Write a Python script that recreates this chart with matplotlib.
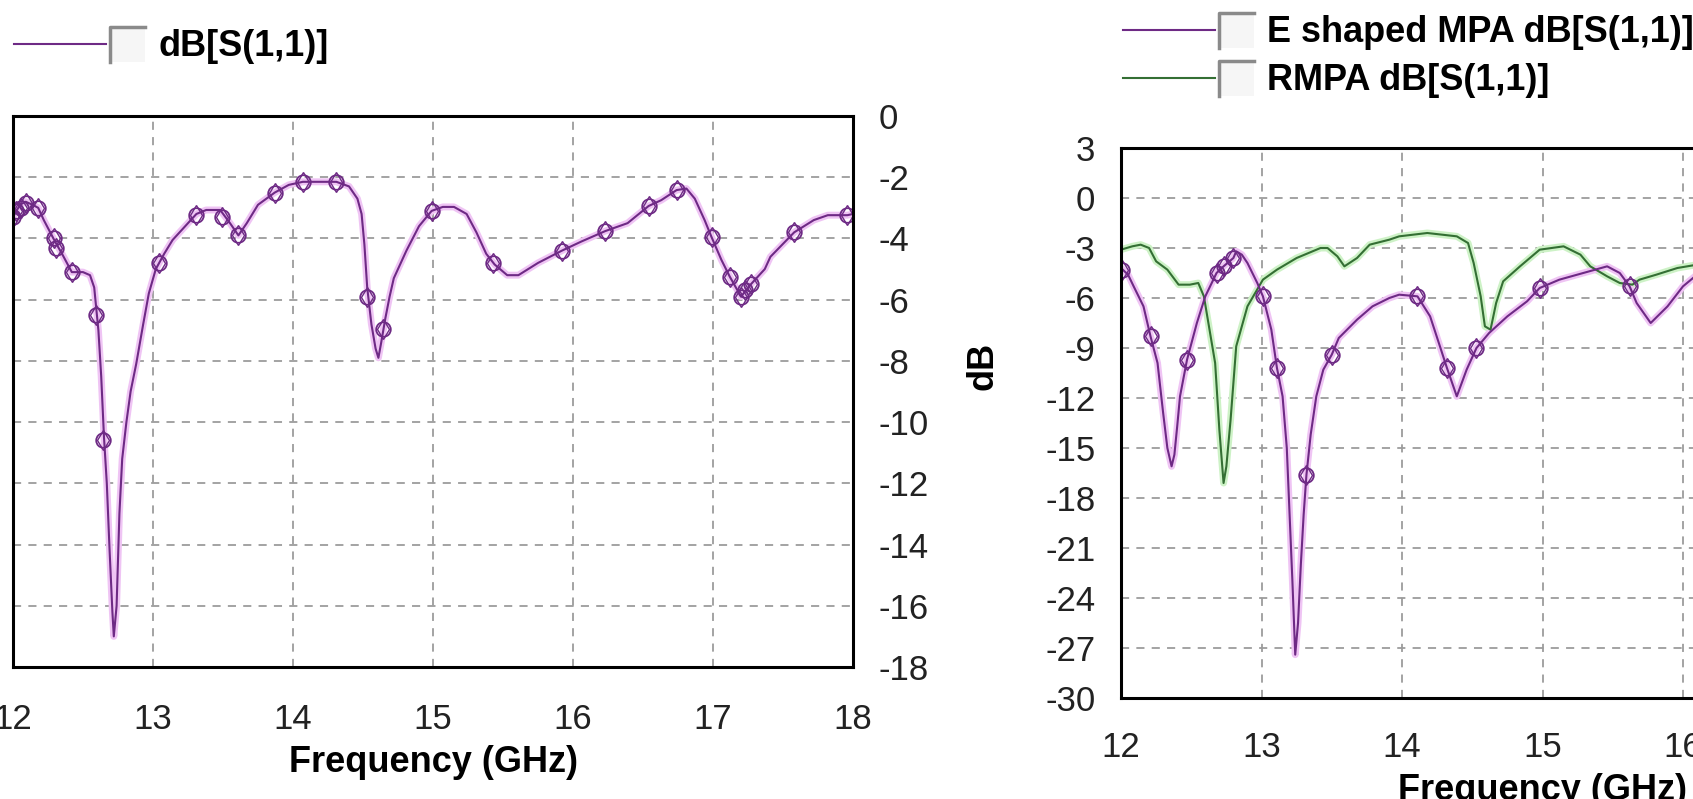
import numpy as np
import matplotlib
matplotlib.use("Agg")
import matplotlib.pyplot as plt
from matplotlib.lines import Line2D
from matplotlib.patches import Rectangle

# ---- data ----
# left chart: dB[S(1,1)]
left_freq = [12.00, 12.05, 12.09, 12.14, 12.18, 12.22, 12.30, 12.35, 12.42, 12.50,
             12.55, 12.58, 12.61, 12.63, 12.65, 12.67, 12.69, 12.71, 12.72, 12.74,
             12.76, 12.78, 12.81, 12.84, 12.88, 12.93, 12.97, 13.02, 13.08, 13.14,
             13.24, 13.31, 13.38, 13.48, 13.55, 13.61, 13.67, 13.75, 13.87, 13.97,
             14.07, 14.19, 14.31, 14.40, 14.46, 14.49, 14.51, 14.53, 14.56, 14.59,
             14.61, 14.63, 14.66, 14.69, 14.72, 14.81, 14.90, 14.99, 15.07, 15.15,
             15.24, 15.31, 15.38, 15.44, 15.53, 15.61, 15.75, 15.92, 16.06, 16.23,
             16.39, 16.54, 16.63, 16.74, 16.81, 16.87, 16.94, 16.99, 17.06, 17.12,
             17.20, 17.27, 17.37, 17.41, 17.58, 17.72, 17.82, 17.96, 18.00]
left_db = [-3.3, -2.9, -2.8, -2.9, -3.0, -3.4, -4.1, -4.5, -5.1, -5.1,
           -5.2, -5.6, -7.0, -8.5, -10.5, -12.0, -14.2, -16.2, -17.0, -16.0,
           -13.0, -11.2, -10.0, -9.0, -8.1, -6.8, -5.8, -5.0, -4.5, -4.05,
           -3.55, -3.2, -3.07, -3.07, -3.5, -3.9, -3.5, -2.9, -2.5, -2.25,
           -2.15, -2.15, -2.15, -2.3, -2.7, -3.2, -4.2, -5.6, -6.8, -7.6,
           -7.9, -7.4, -6.6, -5.9, -5.3, -4.4, -3.6, -3.1, -2.97, -2.97,
           -3.2, -3.8, -4.5, -4.85, -5.2, -5.2, -4.8, -4.4, -4.1, -3.76,
           -3.5, -2.94, -2.75, -2.42, -2.37, -2.7, -3.4, -3.96, -4.7, -5.25,
           -5.9, -5.5, -5.0, -4.6, -3.8, -3.4, -3.24, -3.24, -3.2]
left_mark_freq = [12.00, 12.02, 12.06, 12.09, 12.18, 12.29, 12.31, 12.42, 12.59, 12.64,
                  13.04, 13.31, 13.49, 13.61, 13.87, 14.07, 14.31, 14.53, 14.64, 14.99,
                  15.43, 15.92, 16.23, 16.54, 16.74, 16.99, 17.12, 17.20, 17.23, 17.27,
                  17.58, 17.96]
left_mark_db = [-3.3, -3.1, -3.0, -2.85, -3.0, -4.0, -4.3, -5.1, -6.5, -10.6,
                -4.8, -3.24, -3.3, -3.9, -2.53, -2.15, -2.15, -5.9, -6.95, -3.1,
                -4.8, -4.4, -3.76, -2.94, -2.42, -3.96, -5.25, -5.9, -5.7, -5.5,
                -3.8, -3.24]

# right chart: E shaped MPA
eshape_freq = [12.00, 12.05, 12.09, 12.16, 12.21, 12.26, 12.30, 12.33, 12.36, 12.38,
               12.40, 12.42, 12.47, 12.54, 12.60, 12.68, 12.73, 12.80, 12.82, 12.86,
               12.90, 12.97, 13.01, 13.07, 13.11, 13.15, 13.18, 13.20, 13.22, 13.24,
               13.26, 13.28, 13.30, 13.32, 13.35, 13.39, 13.44, 13.50, 13.55, 13.68,
               13.79, 13.91, 13.98, 14.11, 14.20, 14.27, 14.32, 14.39, 14.46, 14.53,
               14.62, 14.75, 14.89, 14.98, 15.12, 15.29, 15.46, 15.55, 15.62, 15.67,
               15.77, 15.89, 16.00, 16.10]
eshape_db = [-4.2, -4.6, -5.3, -6.5, -8.3, -9.9, -12.9, -15.0, -16.1, -15.4,
             -13.7, -11.9, -9.7, -7.5, -5.9, -4.5, -4.1, -3.6, -3.2, -3.4,
             -3.9, -5.1, -5.9, -7.9, -10.2, -11.9, -15.0, -19.0, -23.0, -27.4,
             -25.5, -22.0, -19.0, -16.6, -14.2, -11.9, -10.3, -9.4, -8.4, -7.3,
             -6.5, -6.0, -5.8, -5.9, -7.1, -8.9, -10.2, -11.9, -10.3, -9.0,
             -8.1, -7.1, -6.2, -5.4, -4.9, -4.5, -4.1, -4.5, -5.3, -6.3,
             -7.5, -6.5, -5.3, -4.6]
eshape_mark_freq = [12.01, 12.21, 12.47, 12.68, 12.73, 12.80, 13.01, 13.11, 13.32, 13.50,
                    14.11, 14.32, 14.53, 14.98, 15.62]
eshape_mark_db = [-4.3, -8.3, -9.7, -4.5, -4.1, -3.6, -5.9, -10.2, -16.6, -9.4,
                  -5.9, -10.2, -9.0, -5.4, -5.3]

# right chart: RMPA
rmpa_freq = [12.00, 12.08, 12.14, 12.20, 12.25, 12.33, 12.41, 12.49, 12.55, 12.59,
             12.63, 12.67, 12.70, 12.73, 12.75, 12.78, 12.82, 12.90, 13.01, 13.11,
             13.25, 13.42, 13.47, 13.54, 13.59, 13.68, 13.77, 13.91, 13.98, 14.18,
             14.39, 14.47, 14.51, 14.56, 14.59, 14.63, 14.67, 14.72, 14.84, 14.98,
             15.15, 15.27, 15.34, 15.46, 15.55, 15.64, 15.69, 15.81, 15.96, 16.10]
rmpa_db = [-3.1, -2.9, -2.8, -3.0, -3.8, -4.3, -5.2, -5.2, -5.1, -5.9,
           -7.9, -9.9, -13.9, -17.1, -16.1, -13.3, -8.9, -6.5, -4.9, -4.3,
           -3.6, -3.0, -3.0, -3.5, -4.1, -3.6, -2.8, -2.5, -2.3, -2.1,
           -2.3, -2.7, -3.9, -5.9, -7.7, -7.9, -6.3, -5.0, -4.1, -3.1,
           -2.9, -3.4, -4.1, -4.7, -5.1, -5.2, -4.9, -4.6, -4.2, -4.0]

left_yticks = list(range(-18, 1, 2))
right_yticks = list(range(-30, 4, 3))
xticks = [12, 13, 14, 15, 16, 17, 18]

W, H = 1693, 799
PURPLE = "#6e2a85"
PURPLE_GLOW = "#efc4f4"
GREEN = "#346f34"
GREEN_GLOW = "#cdf2c6"
GRID = "#9c9c9c"
FONT = ["Liberation Sans", "DejaVu Sans"]

plt.rcParams["font.family"] = FONT
plt.rcParams["axes.unicode_minus"] = False

fig = plt.figure(figsize=(W / 100, H / 100), dpi=100)
fig.patch.set_facecolor("white")


def fx(x):
    return x / W


def fy(y):
    return 1 - y / H


def style_axes(ax, yticks, ylim):
    ax.set_xlim(12, 18)
    ax.set_ylim(*ylim)
    ax.set_xticks(xticks)
    ax.set_yticks(yticks)
    ax.grid(True, color=GRID, ls=(0, (4.5, 4)), lw=1.3)
    ax.tick_params(length=0, labelsize=25, labelcolor="#222222")
    for s in ax.spines.values():
        s.set_linewidth(2.2)
        s.set_color("black")
        s.set_zorder(5)


def draw_curve(ax, f, d, color, glow):
    ax.plot(f, d, color=glow, lw=5, solid_joinstyle="round", zorder=2)
    ax.plot(f, d, color=color, lw=1.5, zorder=3)


def draw_marks(ax, f, d, color):
    ax.plot(f, d, ls="none", marker="o", ms=10.5, mfc="none", mec=color, mew=1.3, zorder=4)
    ax.plot(f, d, ls="none", marker="d", ms=10, mfc="none", mec=color, mew=1.0, zorder=4)


# ---- left chart ----
ax1 = fig.add_axes([fx(13), fy(667), (853 - 13) / W, (667 - 116) / H])
style_axes(ax1, left_yticks, (-18, 0))
ax1.yaxis.tick_right()
ax1.tick_params(axis="y", pad=18.5)
ax1.tick_params(axis="x", pad=26)
draw_curve(ax1, left_freq, left_db, PURPLE, PURPLE_GLOW)
draw_marks(ax1, left_mark_freq, left_mark_db, PURPLE)
ax1.set_xlabel("Frequency (GHz)", fontsize=26, fontweight="bold")
ax1.xaxis.set_label_coords(0.5, (667 - 762) / 551)
ax1.xaxis.label.set_va("center")

# ---- right chart (cut off at the image edge) ----
ax2 = fig.add_axes([fx(1121), fy(698), 6 * 140.5 / W, (698 - 148) / H])
style_axes(ax2, right_yticks, (-30, 3))
ax2.tick_params(axis="y", pad=18.5)
ax2.tick_params(axis="x", pad=24)
draw_curve(ax2, rmpa_freq, rmpa_db, GREEN, GREEN_GLOW)
draw_curve(ax2, eshape_freq, eshape_db, PURPLE, PURPLE_GLOW)
draw_marks(ax2, eshape_mark_freq, eshape_mark_db, PURPLE)
ax2.set_xlabel("Frequency (GHz)", fontsize=26, fontweight="bold")
ax2.xaxis.set_label_coords(0.5, (698 - 790) / 550)
ax2.xaxis.label.set_va("center")
ax2.set_ylabel("dB", fontsize=26, fontweight="bold")
ax2.yaxis.set_label_coords((983 - 1121) / 843, (698 - 366) / 550)
ax2.yaxis.label.set_va("center")


# ---- legends drawn the way the tool shows them ----
def legend_row(x0, x1, y, color, label):
    fig.add_artist(Line2D([fx(x0), fx(x1)], [fy(y), fy(y)], color=color, lw=1.5))
    bx, by, bs = x1 + 4, y - 17, 35
    fig.add_artist(Rectangle((fx(bx), fy(by + bs)), bs / W, bs / H, facecolor="#f6f6f6",
                             edgecolor="none"))
    fig.add_artist(Line2D([fx(bx), fx(bx), fx(bx + bs)],
                          [fy(by + bs), fy(by), fy(by)], color="#8a8a8a", lw=2.5))
    fig.text(fx(bx + bs + 13), fy(y + 2), label, fontsize=26, fontweight="bold",
             va="center", ha="left")


legend_row(14, 106, 44, PURPLE, "dB[S(1,1)]")
legend_row(1123, 1215, 30, PURPLE, "E shaped MPA dB[S(1,1)]")
legend_row(1123, 1215, 78, GREEN, "RMPA dB[S(1,1)]")

fig.savefig("out.png", dpi=100)
